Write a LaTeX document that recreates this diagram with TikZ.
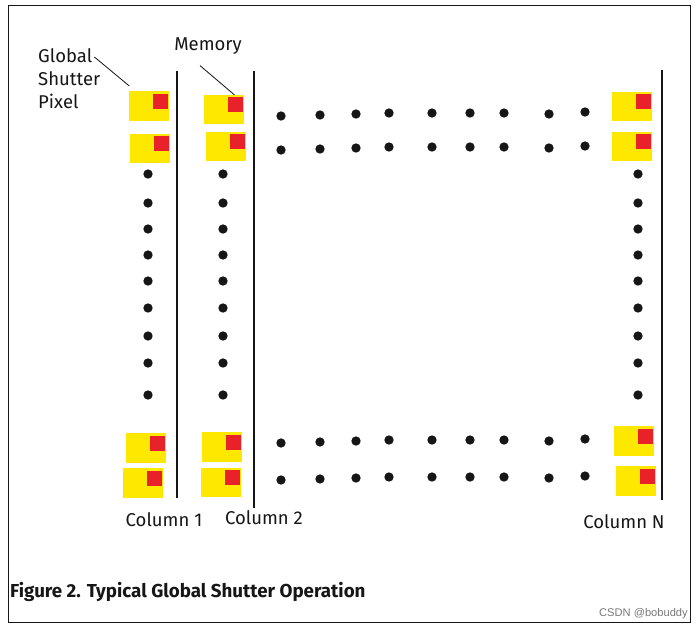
\documentclass[tikz,border=0pt]{standalone}
\usepackage{fontspec}
\setmainfont{Fira Sans}
\newfontfamily\wmfont{Liberation Sans}
\usetikzlibrary{positioning, calc}
\definecolor{gsYellow}{RGB}{255,232,0}
\definecolor{gsRed}{RGB}{232,34,40}
\definecolor{gsInk}{RGB}{22,22,22}
\definecolor{gsGrey}{RGB}{120,120,120}

\begin{document}
\begin{tikzpicture}[x=0.03cm, y=-0.03cm,
    pixel/.style={rectangle, fill=gsYellow, minimum width=1.2cm, minimum height=0.89cm, inner sep=0pt},
    mem/.style={rectangle, fill=gsRed, minimum size=0.45cm, inner sep=0pt},
    dot/.style={circle, fill=gsInk, minimum size=0.28cm, inner sep=0pt},
    bus/.style={draw=gsInk, line width=0.9pt},
    leader/.style={draw=gsInk, line width=0.7pt},
    lbl/.style={font=\fontsize{15.8}{18}\selectfont, text=gsInk, inner sep=0pt}
  ]
  \useasboundingbox (0,0) rectangle (698,633);
  \draw[draw=gsInk, line width=0.8pt] (8,5) rectangle (690,622);

  % column read-out lines
  \draw[bus] (177,71) -- (177,498);
  \draw[bus] (254,71) -- (254,508);
  \draw[bus] (662,70) -- (662,500);

  % pixels with their memory
  \foreach \n/\x/\y in {a1/148.5/106, a2/150/148.5, a3/146/448, a4/143/483,
                        b1/223.5/109.5, b2/226/146.5, b3/221.5/447, b4/221/482.5,
                        c1/632/106.5, c2/632/146.5, c3/634/441, c4/636/481} {
    \node[pixel] (\n) at (\x,\y) {};
    \node[mem, anchor=north east] (m\n) at ($(\n.north east)+(-1,2.5)$) {};
  }

  % vertical dots
  \foreach \y [count=\i] in {174,203,229,255,281,308,336,363,395} {
    \node[dot] (va\i) at (148,\y) {};
    \node[dot] (vb\i) at (223,\y) {};
    \node[dot] (vc\i) at (638,\y) {};
  }

  % horizontal dots
  \foreach \x/\d [count=\i] in {281/0,320/1,356/2,389/3,432/3,470/3,504/3,549/2,585/4} {
    \node[dot] (ha\i) at (\x,116-\d) {};
    \node[dot] (hb\i) at (\x,150-\d) {};
    \node[dot] (hc\i) at (\x,443-\d) {};
    \node[dot] (hd\i) at (\x,480-\d) {};
  }

  % labels
  \node[lbl, anchor=west] (gspA) at (38,56) {Global};
  \node[lbl, anchor=west] (gspB) at (38,79) {Shutter};
  \node[lbl, anchor=west] (gspC) at (38,101) {Pixel};
  \draw[leader] ($(gspA.east)+(2,1)$) -- ($(a1.north west)+(1,-5)$);

  \node[lbl] (memlbl) at (208,46) {Memory};
  \draw[leader] ($(memlbl.south)+(-8,11)$) -- ($(mb1.north)+(-0.5,-2)$);

  \node[lbl] (col1) at (164,520) {Column 1};
  \node[lbl] (col2) at (264,518) {Column 2};
  \node[lbl] (colN) at (624,522) {Column N};

  \node[font=\fontsize{16}{20}\selectfont\fontseries{sb}\selectfont, text=gsInk, anchor=west, inner sep=0pt] (caption) at (10,592) {Figure 2. Typical Global Shutter Operation};
  \node[font=\wmfont\fontsize{9.5}{11}\selectfont, text=gsGrey, anchor=east, inner sep=0pt] (mark) at (688,614) {CSDN @bobuddy};
\end{tikzpicture}
\end{document}
